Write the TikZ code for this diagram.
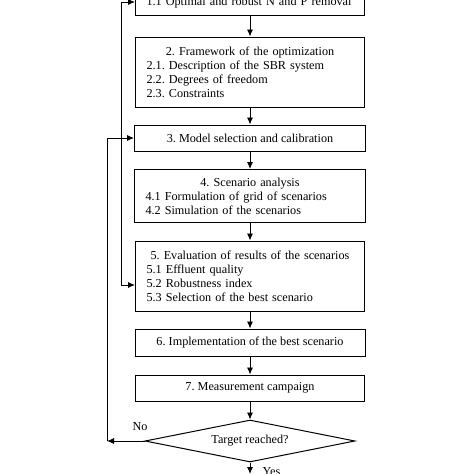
\documentclass[tikz,border=0pt]{standalone}
\usepackage{fontspec}
\setmainfont{Liberation Serif}
\usetikzlibrary{shapes.geometric, arrows.meta}
\frenchspacing
\tikzstyle{every node}=[font=\fontsize{12.2}{14}\selectfont]
\tikzstyle{block}=[draw, line width=1pt, minimum height=26pt, inner xsep=11pt, inner ysep=0pt]
\tikzstyle{list}=[block, text width=207pt, align=left]
\tikzstyle{link}=[-{Latex[length=7pt,width=6pt]}, line width=0.9pt]
\newcommand{\boxhead}[1]{\makebox[\hsize][c]{#1}}

\begin{document}
\begin{tikzpicture}[x=1pt, y=-1pt]
\useasboundingbox (0,0) rectangle (474,474);
\clip (0,0) rectangle (474,474);
% Steps
    \node[list, anchor=south, inner ysep=7pt] (b1) at (250,16) {1.1 Optimal and robust N and P removal};
    \node[list, minimum height=70pt] (b2) at (250,72) {\boxhead{2. Framework of the optimization}\\
        2.1. Description of the SBR system\\ 2.2. Degrees of freedom\\ 2.3. Constraints};
    \node[block, minimum width=231pt] (b3) at (250,138) {3. Model selection and calibration};
    \node[list, text width=209pt, minimum height=53pt] (b4) at (250,196) {\boxhead{4. Scenario analysis}\\
        4.1 Formulation of grid of scenarios\\ 4.2 Simulation of the scenarios};
    \node[list, minimum height=70pt] (b5) at (250,276) {\boxhead{5. Evaluation of results of the scenarios}\\
        5.1 Effluent quality\\ 5.2 Robustness index\\ 5.3 Selection of the best scenario};
    \node[block, minimum width=230pt, minimum height=27pt] (b6) at (250,342.5) {6. Implementation of the best scenario};
    \node[block, minimum width=229pt] (b7) at (250,388) {7. Measurement campaign};
    \node[draw, diamond, line width=1pt, shape aspect=5, minimum width=210pt, minimum height=42pt, inner sep=0pt] (goal) at (250,441) {Target reached?};
%Labels
    \node (no) at (140,427) {No};
    \node[anchor=west] (yes) at (259,472) {Yes};
%Main line
    \draw[link] (b1) -- (b2);
    \draw[link] (b2) -- (b3);
    \draw[link] (b3) -- (b4);
    \draw[link] (b4) -- (b5);
    \draw[link] (b5) -- (b6);
    \draw[link] (b6) -- (b7);
    \draw[link] (b7) -- (goal);
    \coordinate (done) at (250,474);
    \draw[link] (goal.south) -- (done);
%Loops back
    \coordinate (back) at (107,441);
    \draw[link] (goal.west) -- (back);
    \draw[link] (back) |- (b3.west);
    \coordinate (fbtop) at (121,2);
    \coordinate (fbbot) at (121,285);
    \draw[{Latex[length=7pt,width=6pt]}-{Latex[length=7pt,width=6pt]}, line width=0.9pt] (fbtop -| b1.west) -- (fbtop) -- (fbbot) -- (fbbot -| b5.west);
\end{tikzpicture}
\end{document}
